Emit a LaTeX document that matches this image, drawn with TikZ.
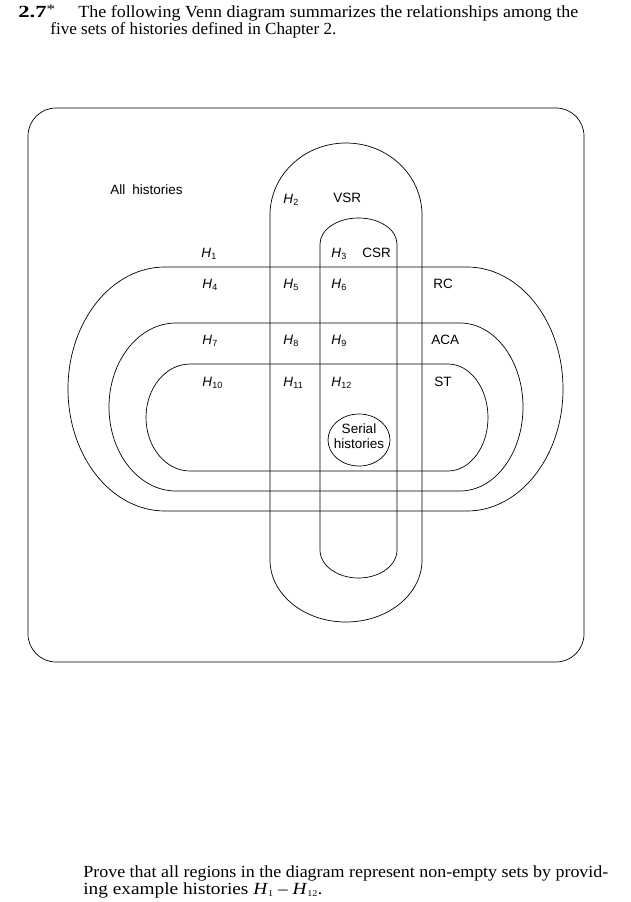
\documentclass[tikz,border=0pt]{standalone}
\usepackage{fontspec}
\usepackage{graphicx}
\setmainfont{Liberation Serif}
\setsansfont{Liberation Sans}
\newcommand\Hlab[1]{\textit{H}\kern0.3pt\raisebox{-0.35ex}{\fontsize{9}{9}\selectfont #1}}
\newcommand\Htxt[1]{\textit{H}\raisebox{-0.3ex}{\fontsize{9}{9}\selectfont #1}}
\newcommand\hfit[2]{\resizebox{#1}{\height}{#2}}
\begin{document}
\begin{tikzpicture}[x=1pt,y=-1pt,line width=0.7pt,
  lab/.style={font=\sffamily\fontsize{13.5}{15}\selectfont,anchor=base west,inner sep=0pt},
  txt/.style={font=\fontsize{17}{18}\selectfont,anchor=base west,inner sep=0pt}]
\useasboundingbox (0,0) rectangle (631,902);

% text above and below
\node[txt] (num) at (18,17) {\hfit{37pt}{\textbf{2.7}\raisebox{0.5ex}{\fontsize{13}{13}\selectfont *}}};
\node[txt] (l1) at (78,17) {\hfit{500pt}{The following Venn diagram summarizes the relationships among the}};
\node[txt] (l2) at (50,34) {\hfit{286pt}{five sets of histories defined in Chapter 2.}};
\node[txt] (b1) at (83,877) {\hfit{525pt}{Prove that all regions in the diagram represent non-empty sets by provid-}};
\node[txt] (b2) at (83,894) {\hfit{239pt}{ing example histories \Htxt{1} -- \Htxt{12}.}};

% all histories
\draw[rounded corners=28pt] (28,108) rectangle (584,662);

% VSR
\draw (270,560) -- (270,215) arc[start angle=180,end angle=0,x radius=76pt,y radius=72pt]
  -- (422,560) arc[start angle=0,end angle=-180,x radius=76pt,y radius=62pt] -- cycle;
% CSR
\draw (320,550) -- (320,244) arc[start angle=180,end angle=0,x radius=38.5pt,y radius=26pt]
  -- (397,550) arc[start angle=0,end angle=-180,x radius=38.5pt,y radius=28pt] -- cycle;
% RC
\draw (165,267) -- (467,267) arc[start angle=90,end angle=-90,x radius=96pt,y radius=122pt]
  -- (165,511) arc[start angle=270,end angle=90,x radius=97pt,y radius=122pt] -- cycle;
% ACA
\draw (176,323) -- (460,323) arc[start angle=90,end angle=-90,x radius=63pt,y radius=84pt]
  -- (176,491) arc[start angle=270,end angle=90,x radius=67pt,y radius=84pt] -- cycle;
% ST
\draw (190,364) -- (448,364) arc[start angle=90,end angle=-90,x radius=40pt,y radius=53.5pt]
  -- (190,471) arc[start angle=270,end angle=90,x radius=44pt,y radius=53.5pt] -- cycle;
% serial histories
\draw (359,440) ellipse[x radius=31pt,y radius=26pt];
\node[font=\sffamily\fontsize{13.5}{15}\selectfont,align=center,inner sep=0pt] (serial) at (359,436) {Serial\\histories};

% labels
\node[lab] (all) at (110,194) {All\hspace{0.25em} histories};
\node[lab] (h2) at (283,203) {\Hlab{2}};
\node[lab] (vsr) at (333,202) {VSR};
\node[lab] (h1) at (201,257) {\Hlab{1}};
\node[lab] (h3) at (331,257) {\Hlab{3}};
\node[lab] (csr) at (362,257) {CSR};
\node[lab] (h4) at (202,288) {\Hlab{4}};
\node[lab] (h5) at (283,288) {\Hlab{5}};
\node[lab] (h6) at (331,288) {\Hlab{6}};
\node[lab] (rc) at (433,288) {RC};
\node[lab] (h7) at (202,344) {\Hlab{7}};
\node[lab] (h8) at (283,344) {\Hlab{8}};
\node[lab] (h9) at (331,344) {\Hlab{9}};
\node[lab] (aca) at (431,344) {ACA};
\node[lab] (h10) at (202,386) {\Hlab{10}};
\node[lab] (h11) at (283,386) {\Hlab{11}};
\node[lab] (h12) at (331,386) {\Hlab{12}};
\node[lab] (st) at (434,386) {ST};
\end{tikzpicture}
\end{document}
